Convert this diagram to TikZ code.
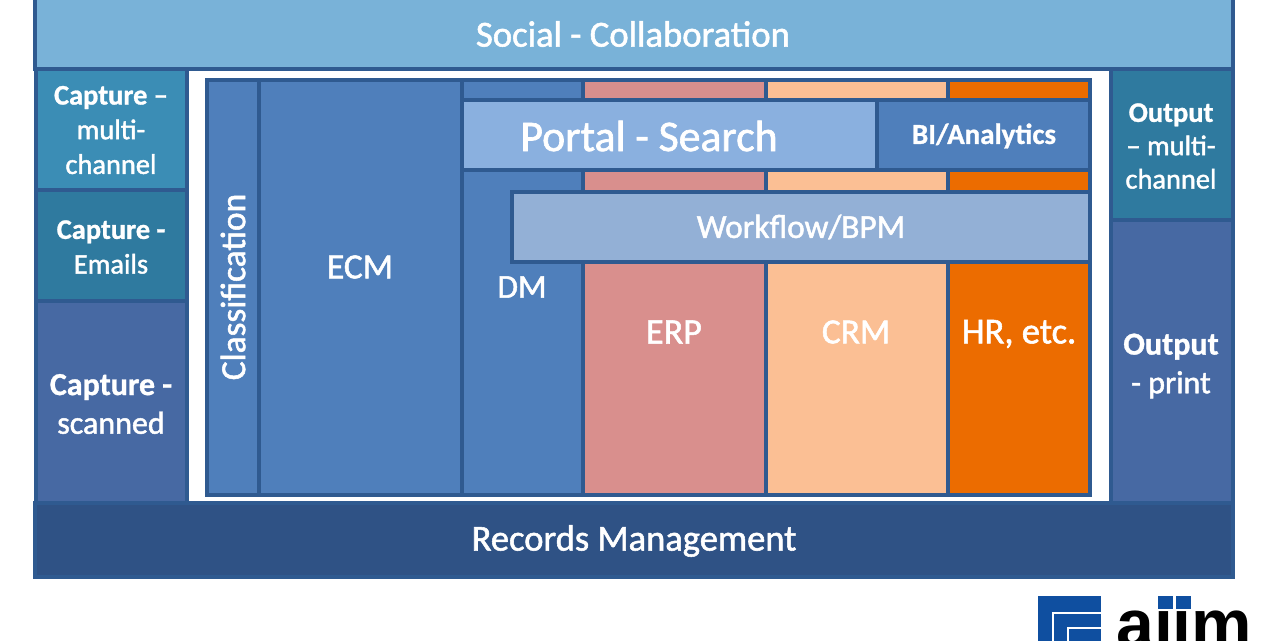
\documentclass[tikz,border=0pt]{standalone}
\usepackage{fontspec}
\setmainfont[FakeBold=1.5]{Carlito}
\newfontfamily\boldfont[FakeBold=1]{Carlito Bold}
\newfontfamily\logofont{Liberation Sans}
\definecolor{edgeblue}{HTML}{2F5A90}
\definecolor{socialblue}{HTML}{79B2D8}
\definecolor{capmultiblue}{HTML}{3B8DB5}
\definecolor{capmailblue}{HTML}{2F7A9F}
\definecolor{scanblue}{HTML}{4769A3}
\definecolor{recordblue}{HTML}{2F5285}
\definecolor{ecmblue}{HTML}{4F7FBB}
\definecolor{portalblue}{HTML}{8AB0DF}
\definecolor{flowblue}{HTML}{93B0D6}
\definecolor{erpred}{HTML}{D98F8D}
\definecolor{crmorange}{HTML}{FBBF94}
\definecolor{hrorange}{HTML}{EC6C00}
\definecolor{logoblue}{HTML}{0F4FA0}
\tikzset{
  panel/.style={draw=edgeblue,line width=2.6pt},
  lab/.style={text=white,align=center,inner sep=0pt},
}
\begin{document}
\begin{tikzpicture}[x=0.75pt,y=-0.75pt]
  \useasboundingbox (0,0) rectangle (1280,640);
  \clip (0,0) rectangle (1280,640);
  % outer ring
  \path[panel,fill=socialblue] (35,-3) rectangle (1233,69);
  \path[panel,fill=capmultiblue] (36,69) rectangle (187,190);
  \path[panel,fill=capmailblue] (36,190) rectangle (187,301);
  \path[panel,fill=scanblue] (36,301) rectangle (187,503);
  \path[panel,fill=capmailblue] (1111,69) rectangle (1233,220);
  \path[panel,fill=scanblue] (1111,220) rectangle (1233,503);
  \path[panel,fill=recordblue] (35,503) rectangle (1233,577);
  % inner columns
  \path[panel,fill=ecmblue] (207,80) rectangle (259,495);
  \path[panel,fill=ecmblue] (259,80) rectangle (462,495);
  \path[panel,fill=ecmblue] (462,80) rectangle (583,495);
  \path[panel,fill=erpred] (583,80) rectangle (766,495);
  \path[panel,fill=crmorange] (766,80) rectangle (948,495);
  \path[panel,fill=hrorange] (948,80) rectangle (1090,495);
  \path[panel,fill=portalblue] (462,100) rectangle (877,170);
  \path[panel,fill=ecmblue] (877,100) rectangle (1090,170);
  \path[panel,fill=flowblue] (512,192) rectangle (1090,262);

  \node[lab,font=\fontsize{27.5}{30}\selectfont] (social) at (633,34) {Social - Collaboration};
  \node[lab,font=\fontsize{21.3}{26}\selectfont] (capmulti) at (111,130) {{\boldfont Capture –}\\multi-\\channel};
  \node[lab,font=\fontsize{21.3}{26}\selectfont] (capmail) at (111,247) {{\boldfont Capture -}\\Emails};
  \node[lab,font=\fontsize{24}{29}\selectfont] (capscan) at (111,404) {{\boldfont Capture -}\\scanned};
  \node[lab,font=\fontsize{21.3}{25}\selectfont] (outmulti) at (1171,146) {{\boldfont Output}\\– multi-\\channel};
  \node[lab,font=\fontsize{24}{29}\selectfont] (outprint) at (1171,366) {{\boldfont Output}\\- print};
  \node[lab,font=\fontsize{27.4}{30}\selectfont] (records) at (634,541) {Records Management};
  \node[lab,font=\fontsize{26.5}{30}\selectfont,rotate=90] (classif) at (233,287) {Classification};
  \node[lab,font=\fontsize{26.6}{30}\selectfont] (ecm) at (360,267) {ECM};
  \node[lab,font=\fontsize{25}{26}\selectfont] (dm) at (522,287) {DM};
  \node[lab,font=\fontsize{32.8}{36}\selectfont] (portal) at (649,136) {Portal - Search};
  \node[lab,font=\fontsize{21.7}{24}\boldfont] (bi) at (984,136) {BI/Analytics};
  \node[lab,font=\fontsize{25}{26}\selectfont] (flow) at (801,227) {Workflow/BPM};
  \node[lab,font=\fontsize{27}{30}\selectfont] (erp) at (674,332) {ERP};
  \node[lab,font=\fontsize{26.5}{30}\selectfont] (crm) at (856,332) {CRM};
  \node[lab,font=\fontsize{27.4}{30}\selectfont] (hr) at (1019,334) {HR, etc.};

  % logo
  \fill[logoblue] (1038,596) rectangle (1101,650);
  \draw[white,line width=2.2pt] (1101,613) -- (1053,613) -- (1053,650);
  \draw[white,line width=2.2pt] (1101,628) -- (1068,628) -- (1068,650);
  \node[anchor=base west,inner sep=0pt,font=\fontsize{51}{52}\logofont\bfseries] (aiim) at (1116,647) {aiim};
  \fill[white] (1150,590) rectangle (1195,610);
  \fill[logoblue] (1158,596) rectangle (1173,609);
  \fill[logoblue] (1176,596) rectangle (1191,609);
\end{tikzpicture}
\end{document}
